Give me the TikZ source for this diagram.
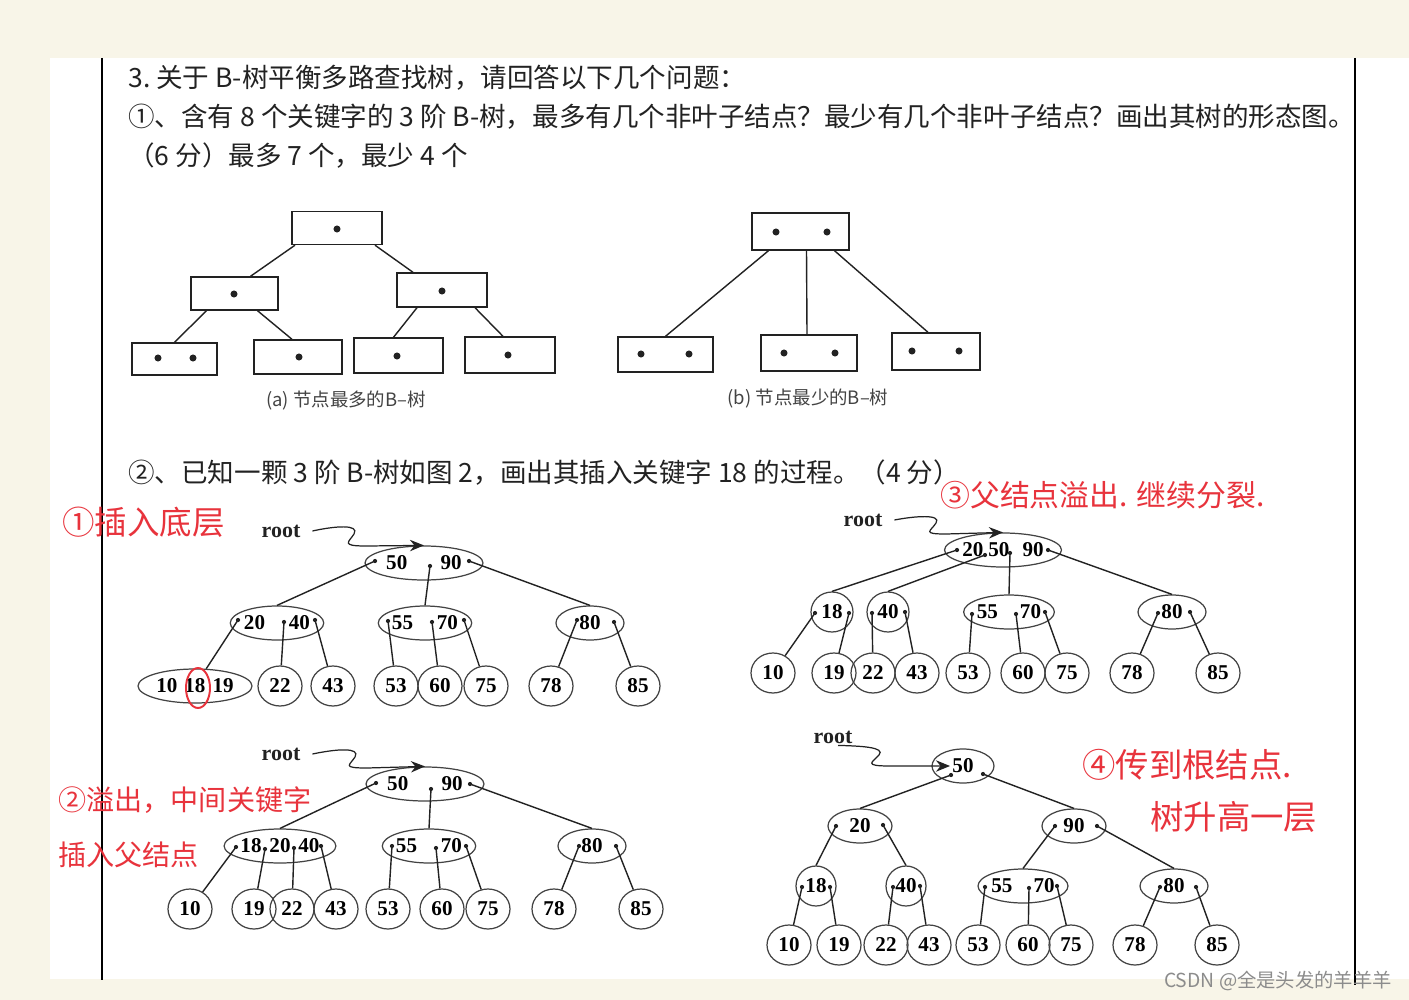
\documentclass[tikz,border=0pt]{standalone}
\usepackage{fontspec}
\setmainfont{Liberation Serif}
\newfontfamily\cjk{Noto Sans CJK SC}
\usetikzlibrary{shapes.geometric,calc,arrows.meta}
\definecolor{crema}{HTML}{F8F5E8}
\definecolor{rojo}{HTML}{E8333C}
\definecolor{tinta}{HTML}{222222}

\begin{document}
\begin{tikzpicture}[
      x=0.02cm, y=-0.02cm,
      texto/.style={anchor=west, inner sep=0, text=tinta, font=\cjk\fontsize{15.1}{17}\selectfont},
      mano/.style={anchor=west, inner sep=0, text=rojo, font=\cjk\fontsize{#1}{#1}\selectfont},
      pie/.style={inner sep=0, text=tinta!85, font=\cjk\fontsize{10.5}{12}\selectfont},
      caja/.style={draw=tinta, line width=0.8pt, inner sep=0},
      punto/.style={circle, fill=tinta, inner sep=0, minimum size=4pt},
      clave/.style={ellipse, draw=tinta!85, line width=0.7pt, inner sep=0,
                    minimum height=0.68cm, font=\bfseries\fontsize{12}{12}\selectfont},
      hoja/.style={clave, minimum width=0.88cm, minimum height=0.8cm},
      ptr/.style={circle, fill=tinta, inner sep=0, minimum size=2.4pt},
      rama/.style={draw=tinta, line width=0.8pt},
      raiz/.style={inner sep=1pt, text=tinta, font=\bfseries\fontsize{12.5}{12}\selectfont},
      flecha/.style={-{Stealth[length=8pt, width=6.5pt]}, line width=0.7pt, draw=tinta}
    ]
    \useasboundingbox (0,0) rectangle (1409,1000);
    \fill[crema] (0,0) rectangle (1409,1000);
    \fill[white] (50,58) rectangle (1409,979);
    \draw[line width=1.4pt] (102,58) -- (102,980);
    \draw[line width=1.6pt] (1355,58) -- (1355,985);

    % enunciado
    \node[texto] (t1) at (128,78)  {3.\ 关于 B-树平衡多路查找树，请回答以下几个问题：};
    \node[texto] (t2) at (128,117) {①、含有 8 个关键字的 3 阶 B-树，最多有几个非叶子结点？最少有几个非叶子结点？画出其树的形态图。};
    \node[texto] (t3) at (128,156) {（6 分）最多 7 个，最少 4 个};
    \node[texto] (t4) at (128,473) {②、已知一颗 3 阶 B-树如图 2，画出其插入关键字 18 的过程。（4 分）};

    % (a) nodos maximos
    \node[caja, minimum width=1.8cm,  minimum height=0.66cm] (A0) at (337,228) {};
    \node[caja, minimum width=1.74cm, minimum height=0.66cm] (A1) at (234.5,293.5) {};
    \node[caja, minimum width=1.8cm,  minimum height=0.68cm] (A2) at (442,290) {};
    \node[caja, minimum width=1.7cm,  minimum height=0.64cm] (A3) at (174.5,359) {};
    \node[caja, minimum width=1.76cm, minimum height=0.68cm] (A4) at (298,357) {};
    \node[caja, minimum width=1.78cm, minimum height=0.7cm]  (A5) at (398.5,355.5) {};
    \node[caja, minimum width=1.8cm,  minimum height=0.72cm] (A6) at (510,355) {};
    \node[punto] (A0p) at (337,229) {};
    \node[punto] (A1p) at (234,294) {};
    \node[punto] (A2p) at (442,291) {};
    \node[punto] (A3p) at (158,358) {};
    \node[punto] (A3q) at (193,358) {};
    \node[punto] (A4p) at (299,357) {};
    \node[punto] (A5p) at (397,356) {};
    \node[punto] (A6p) at (508,355) {};
    \draw[rama] ($(A0.south)+(-42,0)$) -- ($(A1.north)+(16,0)$);
    \draw[rama] ($(A0.south)+(38,0)$) -- ($(A2.north)+(-29,0)$);
    \draw[rama] ($(A1.south)+(-28,0)$) -- (A3.north);
    \draw[rama] ($(A1.south)+(23,0)$) -- ($(A4.north)+(-6,0)$);
    \draw[rama] ($(A2.south)+(-25,0)$) -- ($(A5.north)+(-5,0)$);
    \draw[rama] ($(A2.south)+(33,0)$) -- ($(A6.north)+(-7,0)$);
    \node[pie] (capa) at (346,401) {(a) 节点最多的B–树};

    % (b) nodos minimos
    \node[caja, minimum width=1.94cm, minimum height=0.74cm] (B0) at (800.5,231.5) {};
    \node[caja, minimum width=1.9cm,  minimum height=0.7cm]  (B1) at (665.5,354.5) {};
    \node[caja, minimum width=1.92cm, minimum height=0.72cm] (B2) at (809,353) {};
    \node[caja, minimum width=1.76cm, minimum height=0.74cm] (B3) at (936,351.5) {};
    \node[punto] (B0p) at (776,232) {};
    \node[punto] (B0q) at (827,232) {};
    \node[punto] (B1p) at (641,354) {};
    \node[punto] (B1q) at (689,354) {};
    \node[punto] (B2p) at (784,353) {};
    \node[punto] (B2q) at (835,353) {};
    \node[punto] (B3p) at (912,351) {};
    \node[punto] (B3q) at (959,351) {};
    \draw[rama] ($(B0.south)+(-32,0)$) -- (B1.north);
    \draw[rama] ($(B0.south)+(6,0)$) -- ($(B2.north)+(-2,0)$);
    \draw[rama] ($(B0.south)+(34,0)$) -- ($(B3.north)+(-8,0)$);
    \node[pie] (capb) at (808,399) {(b) 节点最少的B–树};

    % paso 1: insertar en la hoja
    \node[raiz] (s1lab) at (281,531) {root};
    \node[clave, minimum width=2.36cm] (s1r) at (424,563) {50\hspace{19pt}90};
    \draw[flecha] ([xshift=0.2cm]s1lab.east) .. controls (335,526) and (360,524) .. (354,534)
      .. controls (349,542) and (340,546) .. (366,546) -- (s1r.north);
    \node[ptr] (s1r1) at (375,561) {};
    \node[ptr] (s1r2) at (430,566) {};
    \node[ptr] (s1r3) at (469,561) {};
    \node[clave, minimum width=1.8cm]  (s1a) at (277,623) {20\hspace{13.6pt}40};
    \node[clave, minimum width=1.8cm]  (s1b) at (425,623) {55\hspace{13.6pt}70};
    \node[clave, minimum width=1.36cm] (s1c) at (590,623) {80};
    \node[ptr] (s1a1) at (238,620) {};
    \node[ptr] (s1a2) at (284,622) {};
    \node[ptr] (s1a3) at (315,620) {};
    \node[ptr] (s1b1) at (388,621) {};
    \node[ptr] (s1b2) at (432,622) {};
    \node[ptr] (s1b3) at (464,620) {};
    \node[ptr] (s1c1) at (577,620) {};
    \node[ptr] (s1c2) at (614,622) {};
    \node[clave, minimum width=2.28cm] (s1l1) at (195,686) {10\hspace{4pt}18\hspace{4pt}19};
    \node[hoja] (s1l2) at (280,686) {22};
    \node[hoja] (s1l3) at (333,686) {43};
    \node[hoja] (s1l4) at (396,686) {53};
    \node[hoja] (s1l5) at (440,686) {60};
    \node[hoja] (s1l6) at (486,686) {75};
    \node[hoja] (s1l7) at (551,686) {78};
    \node[hoja] (s1l8) at (638,686) {85};
    \draw[rama] (s1r1.center) -- (s1a.north);
    \draw[rama] (s1r2.center) -- (s1b.north);
    \draw[rama] (s1r3.center) -- (s1c.north);
    \draw[rama] (s1a1.center) -- (s1l1);
    \draw[rama] (s1a2.center) -- (s1l2);
    \draw[rama] (s1a3.center) -- (s1l3);
    \draw[rama] (s1b1.center) -- (s1l4);
    \draw[rama] (s1b2.center) -- (s1l5);
    \draw[rama] (s1b3.center) -- (s1l6);
    \draw[rama] (s1c1.center) -- (s1l7);
    \draw[rama] (s1c2.center) -- (s1l8);
    \node[ellipse, draw=rojo, line width=1.1pt, inner sep=0,
          minimum width=0.48cm, minimum height=0.8cm] (marca) at (198,688) {};

    % paso 2: desborde, la clave media sube
    \node[raiz] (s2lab) at (281,754) {root};
    \node[clave, minimum width=2.36cm] (s2r) at (425,784) {50\hspace{19pt}90};
    \draw[flecha] ([xshift=0.2cm]s2lab.east) .. controls (336,749) and (361,747) .. (355,757)
      .. controls (350,765) and (341,768) .. (367,768) -- (s2r.north);
    \node[ptr] (s2r1) at (376,783) {};
    \node[ptr] (s2r2) at (431,789) {};
    \node[ptr] (s2r3) at (470,784) {};
    \node[clave, minimum width=1.92cm] (s2a) at (280,846) {18\hspace{4.5pt}20\hspace{4.5pt}40};
    \node[clave, minimum width=1.8cm]  (s2b) at (429,846) {55\hspace{13.6pt}70};
    \node[clave, minimum width=1.36cm] (s2c) at (592,846) {80};
    \node[ptr] (s2a1) at (236,847) {};
    \node[ptr] (s2a2) at (265,849) {};
    \node[ptr] (s2a3) at (294,848) {};
    \node[ptr] (s2a4) at (321,846) {};
    \node[ptr] (s2b1) at (392,846) {};
    \node[ptr] (s2b2) at (436,848) {};
    \node[ptr] (s2b3) at (466,846) {};
    \node[ptr] (s2c1) at (579,846) {};
    \node[ptr] (s2c2) at (616,846) {};
    \node[hoja] (s2l1) at (190,909) {10};
    \node[hoja] (s2l2) at (254,909) {19};
    \node[hoja] (s2l3) at (292,909) {22};
    \node[hoja] (s2l4) at (336,909) {43};
    \node[hoja] (s2l5) at (388,909) {53};
    \node[hoja] (s2l6) at (442,909) {60};
    \node[hoja] (s2l7) at (488,909) {75};
    \node[hoja] (s2l8) at (554,909) {78};
    \node[hoja] (s2l9) at (641,909) {85};
    \draw[rama] (s2r1.center) -- (s2a.north);
    \draw[rama] (s2r2.center) -- (s2b.north);
    \draw[rama] (s2r3.center) -- (s2c.north);
    \draw[rama] (s2a1.center) -- (s2l1);
    \draw[rama] (s2a2.center) -- (s2l2);
    \draw[rama] (s2a3.center) -- (s2l3);
    \draw[rama] (s2a4.center) -- (s2l4);
    \draw[rama] (s2b1.center) -- (s2l5);
    \draw[rama] (s2b2.center) -- (s2l6);
    \draw[rama] (s2b3.center) -- (s2l7);
    \draw[rama] (s2c1.center) -- (s2l8);
    \draw[rama] (s2c2.center) -- (s2l9);

    % paso 3: desborde del padre
    \node[raiz] (s3lab) at (863,520) {root};
    \node[clave, minimum width=2.34cm] (s3r) at (1003,550) {20\hspace{2.8pt}50\hspace{7.4pt}90};
    \draw[flecha] ([xshift=0.2cm]s3lab.east) .. controls (915,516) and (942,514) .. (936,523)
      .. controls (931,531) and (921,534) .. (946,534) -- (s3r.north);
    \node[ptr] (s3r1) at (957,550) {};
    \node[ptr] (s3r2) at (985,555) {};
    \node[ptr] (s3r3) at (1010,553) {};
    \node[ptr] (s3r4) at (1048,550) {};
    \node[hoja, minimum width=0.84cm] (s3a) at (832,612) {18};
    \node[hoja, minimum width=0.84cm] (s3b) at (888,612) {40};
    \node[clave, minimum width=1.8cm]  (s3c) at (1009,612) {55\hspace{12.5pt}70};
    \node[clave, minimum width=1.36cm] (s3d) at (1172,612) {80};
    \node[ptr] (s3a1) at (815,613) {};
    \node[ptr] (s3a2) at (849,613) {};
    \node[ptr] (s3b1) at (872,613) {};
    \node[ptr] (s3b2) at (905,612) {};
    \node[ptr] (s3c1) at (972,614) {};
    \node[ptr] (s3c2) at (1016,614) {};
    \node[ptr] (s3c3) at (1045,612) {};
    \node[ptr] (s3d1) at (1158,613) {};
    \node[ptr] (s3d2) at (1190,612) {};
    \node[hoja] (s3l1) at (773,673) {10};
    \node[hoja] (s3l2) at (834,673) {19};
    \node[hoja] (s3l3) at (873,673) {22};
    \node[hoja] (s3l4) at (917,673) {43};
    \node[hoja] (s3l5) at (968,673) {53};
    \node[hoja] (s3l6) at (1023,673) {60};
    \node[hoja] (s3l7) at (1067,673) {75};
    \node[hoja] (s3l8) at (1132,673) {78};
    \node[hoja] (s3l9) at (1218,673) {85};
    \draw[rama] (s3r1.center) -- (s3a.north);
    \draw[rama] (s3r2.center) -- (s3b.north);
    \draw[rama] (s3r3.center) -- (s3c.north);
    \draw[rama] (s3r4.center) -- (s3d.north);
    \draw[rama] (s3a1.center) -- (s3l1);
    \draw[rama] (s3a2.center) -- (s3l2);
    \draw[rama] (s3b1.center) -- (s3l3);
    \draw[rama] (s3b2.center) -- (s3l4);
    \draw[rama] (s3c1.center) -- (s3l5);
    \draw[rama] (s3c2.center) -- (s3l6);
    \draw[rama] (s3c3.center) -- (s3l7);
    \draw[rama] (s3d1.center) -- (s3l8);
    \draw[rama] (s3d2.center) -- (s3l9);

    % paso 4: nueva raiz
    \node[raiz] (s4lab) at (833,737) {root};
    \node[clave, minimum width=1.24cm] (s4r) at (963,766) {50};
    \coordinate (s4in) at (950,766);
    \draw[flecha] ([xshift=0.1cm]s4lab.south) .. controls (860,746) and (886,747) .. (879,755)
      .. controls (873,762) and (862,766) .. (890,766) -- (s4in);
    \node[ptr] (s4r1) at (951,775) {};
    \node[ptr] (s4r2) at (983,774) {};
    \node[clave, minimum width=1.28cm] (s4a) at (860,826) {20};
    \node[clave, minimum width=1.28cm] (s4b) at (1074,826) {90};
    \node[ptr] (s4a1) at (836,826) {};
    \node[ptr] (s4a2) at (883,825) {};
    \node[ptr] (s4b1) at (1055,826) {};
    \node[ptr] (s4b2) at (1097,826) {};
    \node[hoja, minimum width=0.8cm] (s4c) at (816,886) {18};
    \node[hoja, minimum width=0.8cm] (s4d) at (906,886) {40};
    \node[clave, minimum width=1.8cm]  (s4e) at (1023,886) {55\hspace{12pt}70};
    \node[clave, minimum width=1.36cm] (s4f) at (1174,886) {80};
    \node[ptr] (s4c1) at (802,887) {};
    \node[ptr] (s4c2) at (830,887) {};
    \node[ptr] (s4d1) at (893,887) {};
    \node[ptr] (s4d2) at (920,886) {};
    \node[ptr] (s4e1) at (985,887) {};
    \node[ptr] (s4e2) at (1029,888) {};
    \node[ptr] (s4e3) at (1057,886) {};
    \node[ptr] (s4f1) at (1160,887) {};
    \node[ptr] (s4f2) at (1196,887) {};
    \node[hoja] (s4l1) at (789,945) {10};
    \node[hoja] (s4l2) at (839,945) {19};
    \node[hoja] (s4l3) at (886,945) {22};
    \node[hoja] (s4l4) at (929,945) {43};
    \node[hoja] (s4l5) at (978,945) {53};
    \node[hoja] (s4l6) at (1028,945) {60};
    \node[hoja] (s4l7) at (1071,945) {75};
    \node[hoja] (s4l8) at (1135,945) {78};
    \node[hoja] (s4l9) at (1217,945) {85};
    \draw[rama] (s4r1.center) -- (s4a.north);
    \draw[rama] (s4r2.center) -- (s4b.north);
    \draw[rama] (s4a1.center) -- (s4c.north);
    \draw[rama] (s4a2.center) -- (s4d.north);
    \draw[rama] (s4b1.center) -- (s4e.north);
    \draw[rama] (s4b2.center) -- (s4f.north);
    \draw[rama] (s4c1.center) -- (s4l1);
    \draw[rama] (s4c2.center) -- (s4l2);
    \draw[rama] (s4d1.center) -- (s4l3);
    \draw[rama] (s4d2.center) -- (s4l4);
    \draw[rama] (s4e1.center) -- (s4l5);
    \draw[rama] (s4e2.center) -- (s4l6);
    \draw[rama] (s4e3.center) -- (s4l7);
    \draw[rama] (s4f1.center) -- (s4l8);
    \draw[rama] (s4f2.center) -- (s4l9);

    % notas a mano
    \node[mano=18.5] (n1)  at (62,522)   {①插入底层};
    \node[mano=17]   (n3)  at (940,495)  {③父结点溢出. 继续分裂.};
    \node[mano=16]   (n2)  at (58,800)   {②溢出，中间关键字};
    \node[mano=16]   (n2b) at (58,855)   {插入父结点};
    \node[mano=19]   (n4)  at (1082,765) {④传到根结点.};
    \node[mano=19]   (n4b) at (1150,817) {树升高一层};

    \node[inner sep=0, text=black!45, font=\cjk\fontsize{11}{12}\selectfont] (csdn) at (1278,981)
      {CSDN @全是头发的羊羊羊};
  \end{tikzpicture}
\end{document}
